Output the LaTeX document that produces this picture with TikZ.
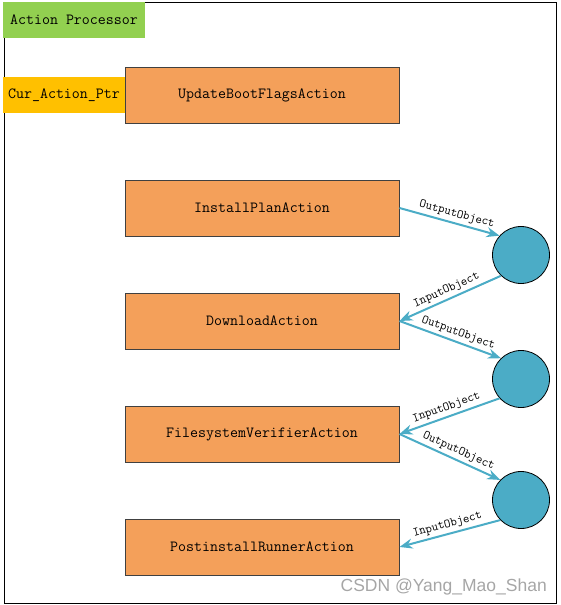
\documentclass[tikz,border=0pt]{standalone}
\usepackage{fontspec}
\setsansfont{Liberation Sans}
\usetikzlibrary{arrows.meta}
\definecolor{boxorange}{HTML}{F4A05A}
\definecolor{boxgreen}{HTML}{92D050}
\definecolor{boxyellow}{HTML}{FFC000}
\definecolor{ballblue}{HTML}{4BACC6}
\definecolor{edgegray}{HTML}{404040}
\tikzset{
  actionbox/.style={draw=edgegray, line width=1pt, fill=boxorange, minimum width=274pt, minimum height=56pt, inner sep=0pt, font=\ttfamily\fontsize{15.5}{16}\selectfont, anchor=center},
  tagbox/.style={inner sep=0pt, font=\ttfamily\fontsize{15.5}{16}\selectfont},
  ball/.style={circle, draw=black, line width=0.8pt, fill=ballblue, minimum size=57pt, inner sep=0pt},
  flow/.style={draw=ballblue, line width=2pt, -{Stealth[length=13pt,width=10pt]}},
  flowlabel/.style={sloped, above, inner sep=2.5pt, font=\ttfamily\fontsize{12.5}{13}\selectfont}
}
\begin{document}
\begin{tikzpicture}[x=1pt,y=-1pt]
\useasboundingbox (0,0) rectangle (560,605);
\draw[line width=1pt, black] (4,2) rectangle (556,603);
% tags
\node[tagbox, fill=boxgreen, minimum width=142pt, minimum height=36pt] (ap) at (74,20) {Action Processor};
\node[tagbox, fill=boxyellow, minimum width=122pt, minimum height=36pt] (ptr) at (64,95) {Cur\_Action\_Ptr};
% action boxes
\node[actionbox] (b1) at (262,95) {UpdateBootFlagsAction};
\node[actionbox] (b2) at (262,208) {InstallPlanAction};
\node[actionbox] (b3) at (262,321) {DownloadAction};
\node[actionbox] (b4) at (262,434) {FilesystemVerifierAction};
\node[actionbox] (b5) at (262,547) {PostinstallRunnerAction};
% objects
\node[ball] (c1) at (521,255) {};
\node[ball] (c2) at (521,379) {};
\node[ball] (c3) at (521,500) {};
% connectors
\draw[flow] (b2.east) -- node[flowlabel, pos=0.55] {OutputObject} (c1.138);
\draw[flow] (c1.226) -- node[flowlabel, pos=0.5] {InputObject} (b3.east);
\draw[flow] (b3.east) -- node[flowlabel, pos=0.55] {OutputObject} (c2.134);
\draw[flow] (c2.222) -- node[flowlabel, pos=0.5] {InputObject} (b4.east);
\draw[flow] (b4.east) -- node[flowlabel, pos=0.55] {OutputObject} (c3.136);
\draw[flow] (c3.224) -- node[flowlabel, pos=0.5] {InputObject} (b5.east);
% watermark
\node[anchor=base east, text=gray!70, font=\sffamily\fontsize{17.5}{18}\selectfont, inner sep=0pt] (wm) at (547,591) {CSDN @Yang\_Mao\_Shan};
\end{tikzpicture}
\end{document}
